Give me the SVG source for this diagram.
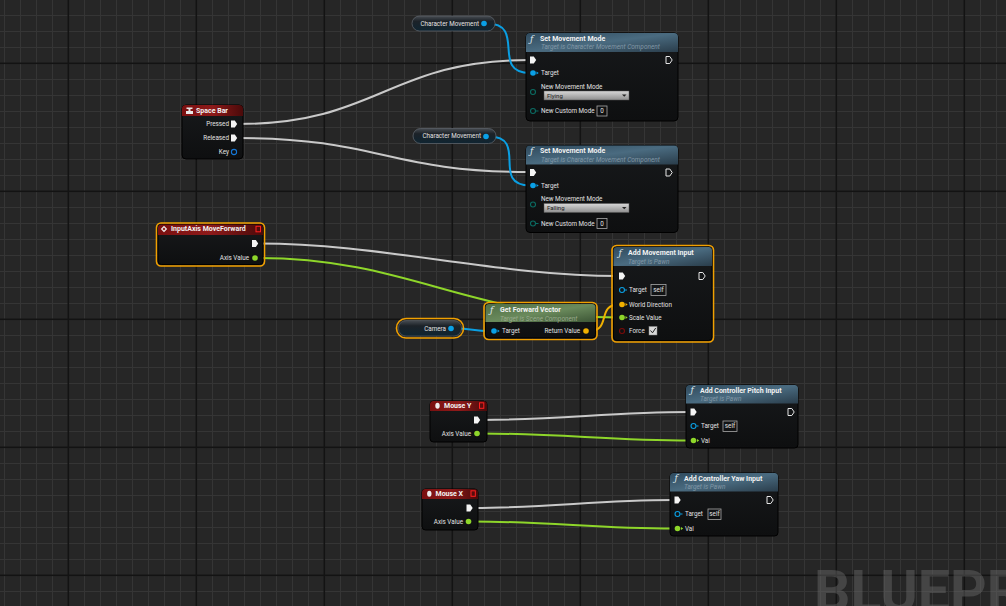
<svg xmlns="http://www.w3.org/2000/svg" width="1006" height="606" viewBox="0 0 1006 606">
<defs>
<pattern id="grid" x="4" y="15" width="128" height="128" patternUnits="userSpaceOnUse">
<rect width="128" height="128" fill="#262626"/>
<g fill="#353535">
<rect x="0" y="0" width="1" height="128"/><rect x="16" y="0" width="1" height="128"/><rect x="32" y="0" width="1" height="128"/><rect x="48" y="0" width="1" height="128"/><rect x="80" y="0" width="1" height="128"/><rect x="96" y="0" width="1" height="128"/><rect x="112" y="0" width="1" height="128"/>
<rect y="0" x="0" height="1" width="128"/><rect y="16" x="0" height="1" width="128"/><rect y="32" x="0" height="1" width="128"/><rect y="64" x="0" height="1" width="128"/><rect y="80" x="0" height="1" width="128"/><rect y="96" x="0" height="1" width="128"/><rect y="112" x="0" height="1" width="128"/>
</g>
<rect x="63.5" y="0" width="1.6" height="128" fill="#131313"/>
<rect y="47.5" x="0" height="1.6" width="128" fill="#131313"/>
</pattern>
<linearGradient id="hdrFn" x1="0" y1="0" x2="1" y2="1">
<stop offset="0" stop-color="#2f4a5d"/><stop offset="0.5" stop-color="#4a6b80"/><stop offset="1" stop-color="#2a3d4b"/>
</linearGradient>
<linearGradient id="hdrEv" x1="0" y1="0" x2="1" y2="0">
<stop offset="0" stop-color="#7a1010"/><stop offset="0.5" stop-color="#8e1a1a"/><stop offset="1" stop-color="#4a0a0a"/>
</linearGradient>
<linearGradient id="hdrGr" x1="0" y1="0" x2="1" y2="1">
<stop offset="0" stop-color="#4f6e45"/><stop offset="0.5" stop-color="#6a8a5c"/><stop offset="1" stop-color="#3c5535"/>
</linearGradient>
<linearGradient id="body" x1="0" y1="0" x2="0" y2="1">
<stop offset="0" stop-color="#17191b"/><stop offset="1" stop-color="#0e0f10"/>
</linearGradient>
<linearGradient id="pill" x1="0" y1="0" x2="0" y2="1">
<stop offset="0" stop-color="#474c52"/><stop offset="0.35" stop-color="#1c2228"/><stop offset="1" stop-color="#0f2532"/>
</linearGradient>
<linearGradient id="dd" x1="0" y1="0" x2="0" y2="1">
<stop offset="0" stop-color="#d8d8d8"/><stop offset="1" stop-color="#8e8e8e"/>
</linearGradient>
<path id="ex" d="M-3,-3.5 H0.8 L3.2,0 L0.8,3.5 H-3 Z"/>
<path id="arr" d="M0,-1.6 L2.2,0 L0,1.6 Z"/>
</defs>
<style>
text{font-family:Roboto,"Liberation Sans",sans-serif}
.t{font-size:7px;font-weight:bold;fill:#f2f2f2}
.s{font-size:6.5px;font-style:italic;fill:#8197a6}
.sg{font-size:6.5px;font-style:italic;fill:#98aa8c}
.l{font-size:6.3px;fill:#e2e2e2}
.dl{font-size:6px;fill:#1a1a1a}
.fi{font-family:"DejaVu Serif",serif;font-style:italic;font-size:9px;fill:#dfe8ee}
.nb{fill:url(#body);stroke:#000;stroke-width:1}
.ef{fill:#f4f4f4}
.eh{fill:none;stroke:#e6e6e6;stroke-width:1}
.w{fill:none;stroke-width:2;stroke-linecap:round}
.we{stroke:#c9c9c9}
.wb{stroke:#0a9fe3}
.wg{stroke:#8ed62a}
.wy{stroke:#f0b000}
.sel{fill:none;stroke:#f1a000;stroke-width:1.6}
.box{fill:none;stroke:#a8a8a8;stroke-width:0.8}
</style>
<rect width="1006" height="606" fill="url(#grid)"/>
<text x="814" y="611" style="font-family:Roboto,'Liberation Sans',sans-serif;font-weight:bold;font-size:57px;fill:#707070;opacity:0.42">BLUEPRINT</text>

<g id="connectors">
<path class="w we" d="M238,124 C378,124 389,60 529,60"/>
<path class="w we" d="M238,138 C378,138 389,172 529,172"/>
<path class="w wb" d="M487,23.5 C527,23.5 490,73 530,73"/>
<path class="w wb" d="M489,136.5 C529,136.5 490,185.5 530,185.5"/>
<path class="w we" d="M259,243.5 C379,243.5 498,276 618,276"/>
<path class="w wg" d="M258,258 C408,258 470,317.5 620,317.5"/>
<path class="w wb" d="M454,328.5 C474,328.5 471,331 491,331"/>
<path class="w wy" d="M589,331 C612,331 596,304.5 619,304.5"/>
<path class="w we" d="M481,420 C561,420 610,412 690,412"/>
<path class="w wg" d="M480,433.5 C560,433.5 610,440.5 690,440.5"/>
<path class="w we" d="M473,508 C553,508 594,500 674,500"/>
<path class="w wg" d="M472,521.5 C552,521.5 594,528.5 674,528.5"/>
</g>

<g id="node-spacebar">
<rect class="nb" x="182" y="105" width="61" height="54" rx="4"/>
<path d="M182,116 V109 Q182,105 186,105 H239 Q243,105 243,109 V116 Z" fill="url(#hdrEv)"/>
<g fill="#e8e8e8"><rect x="186.5" y="107.5" width="6" height="1.5"/><rect x="188.5" y="109" width="2" height="2"/><rect x="186" y="111" width="7" height="3"/></g>
<text class="t" x="196" y="113.4">Space Bar</text>
<text class="l" x="229" y="126.2" text-anchor="end">Pressed</text>
<use href="#ex" x="234" y="124" class="ef"/>
<text class="l" x="229" y="140.2" text-anchor="end">Released</text>
<use href="#ex" x="234" y="138" class="ef"/>
<text class="l" x="229" y="154.2" text-anchor="end">Key</text>
<circle cx="234" cy="152" r="2.6" fill="none" stroke="#1577d6" stroke-width="1.1"/>
</g>

<g id="node-charmove-1">
<rect x="412" y="16" width="83" height="15" rx="7.5" fill="url(#pill)" stroke="#5a6168" stroke-width="0.8"/>
<text class="l" x="479" y="25.8" text-anchor="end">Character Movement</text>
<circle cx="484" cy="23.5" r="2.8" fill="#0aa0e6"/>
</g>

<g id="node-setmode-1">
<rect class="nb" x="526" y="33" width="152" height="88" rx="4"/>
<path d="M526,52 V37 Q526,33 530,33 H674 Q678,33 678,37 V52 Z" fill="url(#hdrFn)"/>
<text class="fi" x="530" y="41.5">ƒ</text>
<text class="t" x="540" y="40.5">Set Movement Mode</text>
<text class="s" x="541" y="49.2">Target is Character Movement Component</text>
<use href="#ex" x="533" y="60" class="ef"/>
<use href="#ex" x="669" y="60" class="eh"/>
<circle cx="533" cy="73" r="2.8" fill="#0aa0e6"/>
<use href="#arr" x="536.5" y="73" fill="#0aa0e6"/>
<text class="l" x="541" y="75.2">Target</text>
<text class="l" x="541" y="88.7">New Movement Mode</text>
<circle cx="533" cy="92" r="2.5" fill="none" stroke="#0b6b62" stroke-width="1.1"/>
<rect x="544" y="91" width="85" height="9" fill="url(#dd)" stroke="#555" stroke-width="0.5"/>
<text class="dl" x="547" y="97.8">Flying</text>
<path d="M622,94.5 H626.5 L624.25,96.8 Z" fill="#222"/>
<circle cx="533" cy="111" r="2.5" fill="none" stroke="#0b6b62" stroke-width="1.1"/>
<path d="M536,111 H538.5" stroke="#0b6b62" stroke-width="1"/>
<text class="l" x="541" y="113.2">New Custom Mode</text>
<rect class="box" x="597" y="106" width="10" height="10"/>
<text class="l" x="602" y="113.3" text-anchor="middle">0</text>
</g>

<g id="node-charmove-2">
<rect x="413" y="128.5" width="83" height="15" rx="7.5" fill="url(#pill)" stroke="#5a6168" stroke-width="0.8"/>
<text class="l" x="481" y="138.3" text-anchor="end">Character Movement</text>
<circle cx="486" cy="136.5" r="2.8" fill="#0aa0e6"/>
</g>

<g id="node-setmode-2" transform="translate(0,112.5)">
<rect class="nb" x="526" y="33" width="152" height="87" rx="4"/>
<path d="M526,52 V37 Q526,33 530,33 H674 Q678,33 678,37 V52 Z" fill="url(#hdrFn)"/>
<text class="fi" x="530" y="41.5">ƒ</text>
<text class="t" x="540" y="40.5">Set Movement Mode</text>
<text class="s" x="541" y="49.2">Target is Character Movement Component</text>
<use href="#ex" x="533" y="60" class="ef"/>
<use href="#ex" x="669" y="60" class="eh"/>
<circle cx="533" cy="73" r="2.8" fill="#0aa0e6"/>
<use href="#arr" x="536.5" y="73" fill="#0aa0e6"/>
<text class="l" x="541" y="75.2">Target</text>
<text class="l" x="541" y="88.7">New Movement Mode</text>
<circle cx="533" cy="92" r="2.5" fill="none" stroke="#0b6b62" stroke-width="1.1"/>
<rect x="544" y="91" width="85" height="9" fill="url(#dd)" stroke="#555" stroke-width="0.5"/>
<text class="dl" x="547" y="97.8">Falling</text>
<path d="M622,94.5 H626.5 L624.25,96.8 Z" fill="#222"/>
<circle cx="533" cy="111" r="2.5" fill="none" stroke="#0b6b62" stroke-width="1.1"/>
<path d="M536,111 H538.5" stroke="#0b6b62" stroke-width="1"/>
<text class="l" x="541" y="113.2">New Custom Mode</text>
<rect class="box" x="597" y="106" width="10" height="10"/>
<text class="l" x="602" y="113.3" text-anchor="middle">0</text>
</g>

<g id="node-inputaxis">
<rect class="sel" x="156.5" y="223" width="108" height="43" rx="4.5"/>
<rect class="nb" x="158" y="224.5" width="105" height="40" rx="3.5"/>
<path d="M158,235 V228 Q158,224.5 161.5,224.5 H259.5 Q263,224.5 263,228 V235 Z" fill="url(#hdrEv)"/>
<path d="M164,225.8 L167.2,229 L164,232.2 L160.8,229 Z" fill="#f0f0f0"/>
<path d="M164,227.5 L165.5,229 L164,230.5 L162.5,229 Z" fill="#8e1515"/>
<text class="t" x="171" y="231.4">InputAxis MoveForward</text>
<rect x="256" y="226.3" width="4.5" height="5.5" fill="none" stroke="#ff2020" stroke-width="1"/>
<use href="#ex" x="255" y="243.5" class="ef"/>
<text class="l" x="249" y="260.2" text-anchor="end">Axis Value</text>
<circle cx="255" cy="258" r="2.8" fill="#8ed62a"/>
</g>

<g id="node-camera">
<rect class="sel" x="396.5" y="318.5" width="67" height="19.5" rx="9.5"/>
<rect x="398.5" y="320.5" width="63" height="15.5" rx="7.5" fill="url(#pill)" stroke="#5a6168" stroke-width="0.6"/>
<text class="l" x="446" y="330.6" text-anchor="end">Camera</text>
<circle cx="451" cy="328.5" r="2.8" fill="#0aa0e6"/>
</g>

<g id="node-getforward">
<rect class="sel" x="484" y="302.5" width="113" height="37" rx="4.5"/>
<rect class="nb" x="485.5" y="304" width="110" height="34" rx="3.5"/>
<path d="M485.5,322 V307.5 Q485.5,304 489,304 H592 Q595.5,304 595.5,307.5 V322 Z" fill="url(#hdrGr)"/>
<text class="fi" x="490" y="312.5">ƒ</text>
<text class="t" x="500" y="311.6">Get Forward Vector</text>
<text class="sg" x="500" y="320.5">Target is Scene Component</text>
<circle cx="494" cy="331" r="2.8" fill="#0aa0e6"/>
<use href="#arr" x="497.5" y="331" fill="#0aa0e6"/>
<text class="l" x="502" y="333.2">Target</text>
<text class="l" x="580" y="333.2" text-anchor="end">Return Value</text>
<circle cx="586" cy="331" r="2.8" fill="#f0b000"/>
</g>

<g id="node-addmovement">
<rect class="sel" x="612" y="245.5" width="101.5" height="96.5" rx="4.5"/>
<rect class="nb" x="613.5" y="247" width="98.5" height="93.5" rx="3.5"/>
<path d="M613.5,266 V250.5 Q613.5,247 617,247 H708.5 Q712,247 712,250.5 V266 Z" fill="url(#hdrFn)"/>
<text class="fi" x="618.5" y="255.5">ƒ</text>
<text class="t" x="628" y="255">Add Movement Input</text>
<text class="s" x="628" y="264.3">Target is Pawn</text>
<use href="#ex" x="622" y="276" class="ef"/>
<use href="#ex" x="702" y="276" class="eh"/>
<circle cx="622" cy="290" r="2.5" fill="none" stroke="#0a9fe3" stroke-width="1.1"/>
<path d="M625,290 H627" stroke="#0a9fe3" stroke-width="1"/>
<text class="l" x="629" y="292.2">Target</text>
<rect class="box" x="651" y="284.5" width="15" height="11"/>
<text class="l" x="658.5" y="292" text-anchor="middle">self</text>
<circle cx="622" cy="304.5" r="2.8" fill="#f0b000"/>
<use href="#arr" x="625.5" y="304.5" fill="#f0b000"/>
<text class="l" x="629" y="306.7">World Direction</text>
<circle cx="622" cy="317.5" r="2.8" fill="#8ed62a"/>
<use href="#arr" x="625.5" y="317.5" fill="#8ed62a"/>
<text class="l" x="629" y="319.7">Scale Value</text>
<circle cx="622" cy="331" r="2.5" fill="none" stroke="#7a0a0a" stroke-width="1.1"/>
<text class="l" x="629" y="333.2">Force</text>
<rect x="649" y="326.5" width="8" height="8.5" fill="#d8d8d8" stroke="#888" stroke-width="0.5"/>
<path d="M650.5,330.5 L652.5,332.8 L655.7,328" fill="none" stroke="#222" stroke-width="1"/>
</g>

<g id="node-mousey">
<rect class="nb" x="430" y="401" width="57" height="41" rx="3.5"/>
<path d="M430,411 V404.5 Q430,401 433.5,401 H483.5 Q487,401 487,404.5 V411 Z" fill="url(#hdrEv)"/>
<ellipse cx="437.5" cy="405.8" rx="2.2" ry="3" fill="#eeeeee"/>
<text class="t" x="444" y="408.2">Mouse Y</text>
<rect x="479.5" y="402.8" width="4.3" height="5.5" fill="none" stroke="#ff2020" stroke-width="1"/>
<use href="#ex" x="477" y="420" class="ef"/>
<text class="l" x="471" y="435.7" text-anchor="end">Axis Value</text>
<circle cx="477" cy="433.5" r="2.8" fill="#8ed62a"/>
</g>

<g id="node-pitch">
<rect class="nb" x="686" y="385" width="112" height="63" rx="3.5"/>
<path d="M686,403.5 V388.5 Q686,385 689.5,385 H794.5 Q798,385 798,388.5 V403.5 Z" fill="url(#hdrFn)"/>
<text class="fi" x="690.5" y="393">ƒ</text>
<text class="t" x="700" y="392.5">Add Controller Pitch Input</text>
<text class="s" x="700" y="401.3">Target is Pawn</text>
<use href="#ex" x="693.5" y="412" class="ef"/>
<use href="#ex" x="791" y="412" class="eh"/>
<circle cx="693.5" cy="426" r="2.5" fill="none" stroke="#0a9fe3" stroke-width="1.1"/>
<path d="M696.5,426 H698.5" stroke="#0a9fe3" stroke-width="1"/>
<text class="l" x="701" y="428.2">Target</text>
<rect class="box" x="723" y="421" width="14" height="10.5"/>
<text class="l" x="730" y="428.3" text-anchor="middle">self</text>
<circle cx="693.5" cy="440.5" r="2.8" fill="#8ed62a"/>
<use href="#arr" x="697" y="440.5" fill="#8ed62a"/>
<text class="l" x="701" y="442.7">Val</text>
</g>

<g id="node-mousex">
<rect class="nb" x="422" y="489" width="56" height="41" rx="3.5"/>
<path d="M422,499 V492.5 Q422,489 425.5,489 H474.5 Q478,489 478,492.5 V499 Z" fill="url(#hdrEv)"/>
<ellipse cx="429.3" cy="493.8" rx="2.2" ry="3" fill="#eeeeee"/>
<text class="t" x="435.5" y="496.2">Mouse X</text>
<rect x="471" y="490.8" width="4.3" height="5.5" fill="none" stroke="#ff2020" stroke-width="1"/>
<use href="#ex" x="469.5" y="508" class="ef"/>
<text class="l" x="463" y="523.7" text-anchor="end">Axis Value</text>
<circle cx="468.5" cy="521.5" r="2.8" fill="#8ed62a"/>
</g>

<g id="node-yaw">
<rect class="nb" x="670" y="473" width="108" height="63" rx="3.5"/>
<path d="M670,491.5 V476.5 Q670,473 673.5,473 H774.5 Q778,473 778,476.5 V491.5 Z" fill="url(#hdrFn)"/>
<text class="fi" x="674.5" y="481">ƒ</text>
<text class="t" x="684" y="480.5">Add Controller Yaw Input</text>
<text class="s" x="684" y="489.3">Target is Pawn</text>
<use href="#ex" x="677.5" y="500" class="ef"/>
<use href="#ex" x="770" y="500" class="eh"/>
<circle cx="677.5" cy="514" r="2.5" fill="none" stroke="#0a9fe3" stroke-width="1.1"/>
<path d="M680.5,514 H682.5" stroke="#0a9fe3" stroke-width="1"/>
<text class="l" x="685" y="516.2">Target</text>
<rect class="box" x="708" y="509" width="13" height="10.5"/>
<text class="l" x="714.5" y="516.3" text-anchor="middle">self</text>
<circle cx="677.5" cy="528.5" r="2.8" fill="#8ed62a"/>
<use href="#arr" x="681" y="528.5" fill="#8ed62a"/>
<text class="l" x="685" y="530.7">Val</text>
</g>
</svg>
